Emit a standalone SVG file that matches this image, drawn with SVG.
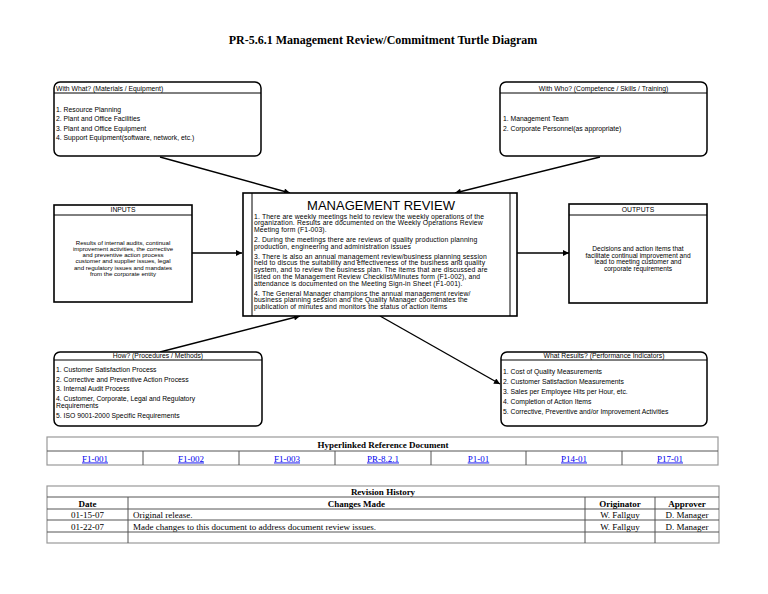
<svg xmlns="http://www.w3.org/2000/svg" width="768" height="594" viewBox="0 0 768 594">
<style>
.box{fill:#fff;stroke:#000;stroke-width:1.5}
.sq{fill:#fff;stroke:#000;stroke-width:1.6}
.hl{stroke:#000;stroke-width:1}
.t{font-family:"Liberation Sans",Arial,sans-serif;font-size:6.8px;fill:#000}
.tc{font-family:"Liberation Sans",Arial,sans-serif;font-size:6.8px;fill:#000;text-anchor:middle}
.ti{font-family:"Liberation Sans",Arial,sans-serif;font-size:6.1px;fill:#000;text-anchor:middle}
.to{font-family:"Liberation Sans",Arial,sans-serif;font-size:6.6px;fill:#000;text-anchor:middle}
.mr{font-family:"Liberation Sans",Arial,sans-serif;font-size:6.8px;letter-spacing:0.15px;fill:#000}
.s{font-family:"Liberation Serif","Times New Roman",serif;font-size:9px;fill:#000}
.sb{font-family:"Liberation Serif","Times New Roman",serif;font-size:9px;font-weight:bold;fill:#000;text-anchor:middle}
.sc{font-family:"Liberation Serif","Times New Roman",serif;font-size:9px;fill:#000;text-anchor:middle}
.lk{font-family:"Liberation Serif","Times New Roman",serif;font-size:9px;fill:#0000ee;text-anchor:middle;text-decoration:underline}
.conn{stroke:#000;stroke-width:1.4;fill:none;marker-end:url(#ah)}
.tb{stroke:#555;stroke-width:1;fill:none}
.tbo{stroke:#999;stroke-width:1.2;fill:none}
</style>
<defs>
<marker id="ah" viewBox="0 0 10 10" refX="10" refY="5" markerWidth="7" markerHeight="6" markerUnits="userSpaceOnUse" orient="auto">
<path d="M0,0 L10,5 L0,10 z" fill="#000"/>
</marker>
</defs>
<rect width="768" height="594" fill="#fff"/>
<text x="383" y="44" font-family="'Liberation Serif','Times New Roman',serif" font-size="12" font-weight="bold" text-anchor="middle">PR-5.6.1 Management Review/Commitment Turtle Diagram</text>

<g id="connectors">
<line class="conn" x1="160" y1="157" x2="290" y2="193"/>
<line class="conn" x1="600" y1="157" x2="455" y2="193"/>
<line class="conn" x1="192" y1="253" x2="242" y2="253"/>
<line class="conn" x1="517" y1="253" x2="569" y2="253"/>
<line class="conn" x1="160" y1="352" x2="300" y2="316"/>
<line class="conn" x1="380" y1="316" x2="500" y2="384"/>
</g>

<g id="with-what">
<rect class="box" x="54" y="82" width="207" height="74" rx="6"/>
<line class="hl" x1="54" y1="93" x2="261" y2="93"/>
<text class="t" x="56" y="90.5">With What? (Materials / Equipment)</text>
<text class="t" x="56" y="111.5">1. Resource Planning</text>
<text class="t" x="56" y="121">2. Plant and Office Facilities</text>
<text class="t" x="56" y="130.5">3. Plant and Office Equipment</text>
<text class="t" x="56" y="140">4. Support Equipment(software, network, etc.)</text>
</g>

<g id="with-who">
<rect class="box" x="500" y="82" width="207" height="74" rx="6"/>
<line class="hl" x1="500" y1="93" x2="707" y2="93"/>
<text class="tc" x="603.5" y="90.5">With Who? (Competence / Skills / Training)</text>
<text class="t" x="503" y="120.5">1. Management Team</text>
<text class="t" x="503" y="130.5">2. Corporate Personnel(as appropriate)</text>
</g>

<g id="inputs">
<rect class="sq" x="54" y="205" width="138" height="97"/>
<line class="hl" x1="54" y1="215" x2="192" y2="215"/>
<text class="tc" x="123" y="212.3">INPUTS</text>
<text class="ti" x="123" y="244.8">Results of internal audits, continual</text>
<text class="ti" x="123" y="251">improvement activities, the corrective</text>
<text class="ti" x="123" y="257.2">and preventive action process</text>
<text class="ti" x="123" y="263.4">customer and supplier issues, legal</text>
<text class="ti" x="123" y="269.6">and regulatory issues and mandates</text>
<text class="ti" x="123" y="275.8">from the corporate entity</text>
</g>

<g id="management-review">
<rect class="sq" x="243" y="193" width="274" height="123"/>
<line class="hl" x1="252" y1="193" x2="252" y2="316"/>
<line class="hl" x1="510" y1="193" x2="510" y2="316"/>
<text x="381" y="210" font-family="'Liberation Sans',Arial,sans-serif" font-size="13" text-anchor="middle">MANAGEMENT REVIEW</text>
<text class="mr" x="254" y="218.6">1. There are weekly meetings held to review the weekly operations of the</text>
<text class="mr" x="254" y="225.4">organization. Results are documented on the Weekly Operations Review</text>
<text class="mr" x="254" y="232.2">Meeting form (F1-003).</text>
<text class="mr" x="254" y="242">2. During the meetings there are reviews of quality production planning</text>
<text class="mr" x="254" y="248.8">production, engineering and administration issues</text>
<text class="mr" x="254" y="258.6">3. There is also an annual management review/business planning session</text>
<text class="mr" x="254" y="265.4">held to discus the suitability and effectiveness of the business and quality</text>
<text class="mr" x="254" y="272.2">system, and to review the business plan. The items that are discussed are</text>
<text class="mr" x="254" y="279">listed on the Management Review Checklist/Minutes form (F1-002), and</text>
<text class="mr" x="254" y="285.8">attendance is documented on the Meeting Sign-in Sheet (F1-001).</text>
<text class="mr" x="254" y="295.6">4. The General Manager champions the annual management review/</text>
<text class="mr" x="254" y="302.4">business planning session and the Quality Manager coordinates the</text>
<text class="mr" x="254" y="309.2">publication of minutes and monitors the status of action items</text>
</g>

<g id="outputs">
<rect class="sq" x="569" y="204" width="138" height="99"/>
<line class="hl" x1="569" y1="215" x2="707" y2="215"/>
<text class="tc" x="638" y="212.3">OUTPUTS</text>
<text class="to" x="638" y="251.2">Decisions and action items that</text>
<text class="to" x="638" y="257.8">facilitate continual improvement and</text>
<text class="to" x="638" y="264.4">lead to meeting customer and</text>
<text class="to" x="638" y="271">corporate requirements</text>
</g>

<g id="how">
<rect class="box" x="54" y="352" width="208" height="74" rx="6"/>
<line class="hl" x1="54" y1="360" x2="262" y2="360"/>
<text class="tc" x="158" y="358.4">How? (Procedures / Methods)</text>
<text class="t" x="56" y="372.4">1. Customer Satisfaction Process</text>
<text class="t" x="56" y="382.4">2. Corrective and Preventive Action Process</text>
<text class="t" x="56" y="391.4">3. Internal Audit Process</text>
<text class="t" x="56" y="401.4">4. Customer, Corporate, Legal and Regulatory</text>
<text class="t" x="56" y="408.4">Requirements</text>
<text class="t" x="56" y="418.4">5. ISO 9001-2000 Specific Requirements</text>
</g>

<g id="what-results">
<rect class="box" x="501" y="352" width="206" height="74" rx="6"/>
<line class="hl" x1="501" y1="360" x2="707" y2="360"/>
<text class="tc" x="604" y="358.4">What Results? (Performance Indicators)</text>
<text class="t" x="503" y="374.4">1. Cost of Quality Measurements</text>
<text class="t" x="503" y="384.4">2. Customer Satisfaction Measurements</text>
<text class="t" x="503" y="394.4">3. Sales per Employee Hits per Hour, etc.</text>
<text class="t" x="503" y="404.4">4. Completion of Action Items</text>
<text class="t" x="503" y="414.4">5. Corrective, Preventive and/or Improvement Activities</text>
</g>

<g id="reference-table">
<rect class="tbo" x="47" y="437" width="671" height="28"/>
<line class="tb" x1="47" y1="451" x2="718" y2="451"/>
<line class="tb" x1="143" y1="451" x2="143" y2="465"/>
<line class="tb" x1="239" y1="451" x2="239" y2="465"/>
<line class="tb" x1="335" y1="451" x2="335" y2="465"/>
<line class="tb" x1="431" y1="451" x2="431" y2="465"/>
<line class="tb" x1="526" y1="451" x2="526" y2="465"/>
<line class="tb" x1="622" y1="451" x2="622" y2="465"/>
<text class="sb" x="383" y="447.5">Hyperlinked Reference Document</text>
<text class="lk" x="95" y="461.5">F1-001</text>
<text class="lk" x="191" y="461.5">F1-002</text>
<text class="lk" x="287" y="461.5">F1-003</text>
<text class="lk" x="383" y="461.5">PR-8.2.1</text>
<text class="lk" x="478.5" y="461.5">P1-01</text>
<text class="lk" x="574" y="461.5">P14-01</text>
<text class="lk" x="670" y="461.5">P17-01</text>
</g>

<g id="revision-table">
<rect class="tbo" x="47" y="486" width="672" height="57"/>
<line class="tb" x1="47" y1="497" x2="719" y2="497"/>
<line class="tb" x1="47" y1="509" x2="719" y2="509"/>
<line class="tb" x1="47" y1="520" x2="719" y2="520"/>
<line class="tb" x1="47" y1="532" x2="719" y2="532"/>
<line class="tb" x1="128" y1="497" x2="128" y2="543"/>
<line class="tb" x1="585" y1="497" x2="585" y2="543"/>
<line class="tb" x1="655" y1="497" x2="655" y2="543"/>
<text class="sb" x="383" y="495">Revision History</text>
<text class="sb" x="87.5" y="506.5">Date</text>
<text class="sb" x="356.5" y="506.5">Changes Made</text>
<text class="sb" x="620" y="506.5">Originator</text>
<text class="sb" x="687" y="506.5">Approver</text>
<text class="sc" x="87.5" y="518">01-15-07</text>
<text class="s" x="133" y="518">Original release.</text>
<text class="sc" x="620" y="518">W. Fallguy</text>
<text class="sc" x="687" y="518">D. Manager</text>
<text class="sc" x="87.5" y="529.5">01-22-07</text>
<text class="s" x="133" y="529.5">Made changes to this document to address document review issues.</text>
<text class="sc" x="620" y="529.5">W. Fallguy</text>
<text class="sc" x="687" y="529.5">D. Manager</text>
</g>
</svg>
